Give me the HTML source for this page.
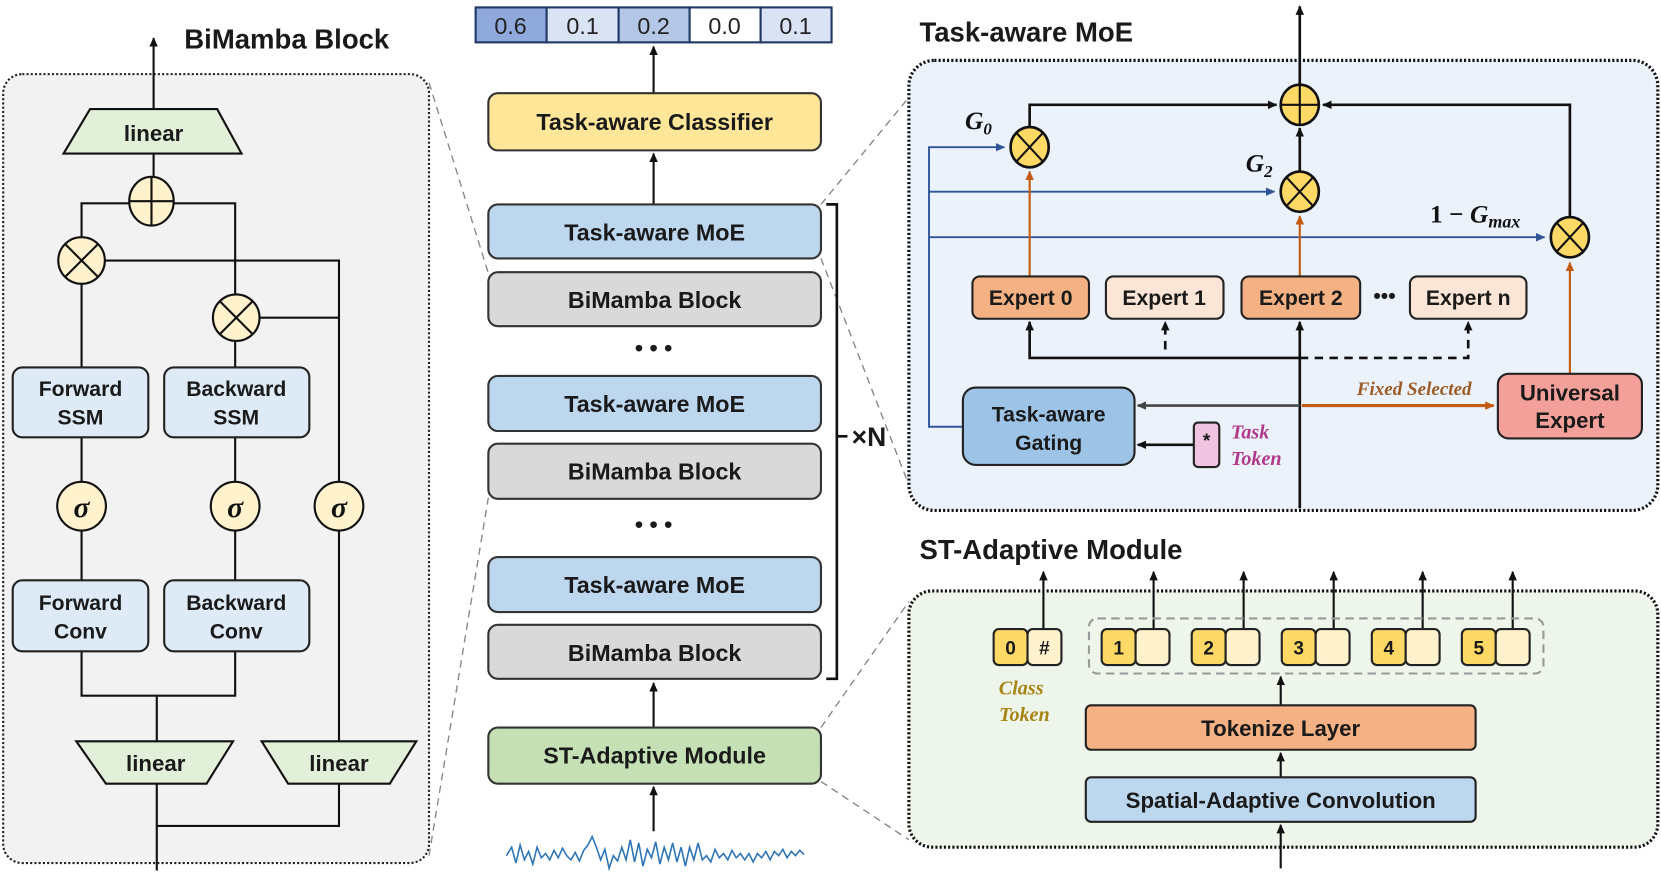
<!DOCTYPE html>
<html><head><meta charset="utf-8"><style>
html,body{margin:0;padding:0;background:#fff;}
svg{display:block;}
text{font-family:"Liberation Sans",sans-serif;}
.b{font-weight:bold;fill:#1a1a1a;}
</style></head><body>
<svg width="1661" height="880" viewBox="0 0 1568 831" preserveAspectRatio="none" xmlns="http://www.w3.org/2000/svg">
<defs>
<marker id="ak" markerWidth="10" markerHeight="10" refX="8" refY="5" orient="auto" markerUnits="userSpaceOnUse"><path d="M0,1 L9,5 L0,9 z" fill="#111"/></marker>
<marker id="ab" markerWidth="10" markerHeight="10" refX="8" refY="5" orient="auto" markerUnits="userSpaceOnUse"><path d="M0,1 L9,5 L0,9 z" fill="#2f5597"/></marker>
<marker id="ao" markerWidth="10" markerHeight="10" refX="8" refY="5" orient="auto" markerUnits="userSpaceOnUse"><path d="M0,1 L9,5 L0,9 z" fill="#c55a11"/></marker>
<marker id="ag" markerWidth="10" markerHeight="10" refX="8" refY="5" orient="auto" markerUnits="userSpaceOnUse"><path d="M0,1 L9,5 L0,9 z" fill="#444"/></marker>
</defs>

<!-- LEFT PANEL -->
<rect x="3" y="70" width="402" height="745" rx="18" fill="#f2f2f2" stroke="#222" stroke-width="2" stroke-dasharray="2,2"/>
<text x="174" y="46" class="b" font-size="26">BiMamba Block</text>
<g stroke="#111" stroke-width="2" fill="none">
<line x1="145" y1="103" x2="145" y2="36" marker-end="url(#ak)"/>
<line x1="145" y1="145" x2="145" y2="168"/>
<polyline points="77,224 77,192 222,192 222,278"/>
<polyline points="99,246 320,246 320,455"/>
<line x1="245" y1="300" x2="320" y2="300"/>
<line x1="77" y1="268" x2="77" y2="347"/>
<line x1="222" y1="322" x2="222" y2="347"/>
<line x1="77" y1="413" x2="77" y2="455"/>
<line x1="222" y1="413" x2="222" y2="455"/>
<line x1="77" y1="501" x2="77" y2="548"/>
<line x1="222" y1="501" x2="222" y2="548"/>
<polyline points="77,615 77,657 222,657 222,615"/>
<line x1="148" y1="657" x2="148" y2="700"/>
<line x1="148" y1="740" x2="148" y2="822"/>
<polyline points="320,501 320,700"/>
<polyline points="320,740 320,780 148,780"/>
</g>
<polygon points="85,103 205,103 228,145 60,145" fill="#e2efd9" stroke="#111" stroke-width="2"/>
<text x="145" y="133" class="b" font-size="21" text-anchor="middle">linear</text>
<polygon points="72,700 220,700 195,740 100,740" fill="#e2efd9" stroke="#111" stroke-width="2"/>
<text x="147" y="728" class="b" font-size="21" text-anchor="middle">linear</text>
<polygon points="247,700 393,700 368,740 272,740" fill="#e2efd9" stroke="#111" stroke-width="2"/>
<text x="320" y="728" class="b" font-size="21" text-anchor="middle">linear</text>
<g stroke="#111" stroke-width="2">
<ellipse cx="143" cy="190" rx="21" ry="23" fill="#fff2cc"/>
<line x1="122" y1="190" x2="164" y2="190"/><line x1="143" y1="167" x2="143" y2="213"/>
<ellipse cx="77" cy="246" rx="22" ry="22" fill="#fff2cc"/>
<line x1="62" y1="231" x2="92" y2="261"/><line x1="92" y1="231" x2="62" y2="261"/>
<ellipse cx="223" cy="300" rx="22" ry="22" fill="#fff2cc"/>
<line x1="208" y1="285" x2="238" y2="315"/><line x1="238" y1="285" x2="208" y2="315"/>
<ellipse cx="77" cy="478" rx="23" ry="23" fill="#fff2cc"/>
<ellipse cx="222" cy="478" rx="23" ry="23" fill="#fff2cc"/>
<ellipse cx="320" cy="478" rx="23" ry="23" fill="#fff2cc"/>
</g>
<g font-family="Liberation Serif,serif" font-weight="bold" font-style="italic" font-size="28" text-anchor="middle" fill="#111">
<text x="77" y="488" style="font-family:'Liberation Serif',serif">σ</text>
<text x="222" y="488" style="font-family:'Liberation Serif',serif">σ</text>
<text x="320" y="488" style="font-family:'Liberation Serif',serif">σ</text>
</g>
<g stroke="#222" stroke-width="2" fill="#deebf7">
<rect x="12" y="347" width="128" height="66" rx="9"/>
<rect x="155" y="347" width="137" height="66" rx="9"/>
<rect x="12" y="548" width="128" height="67" rx="9"/>
<rect x="155" y="548" width="137" height="67" rx="9"/>
</g>
<g class="b" font-size="20" text-anchor="middle">
<text x="76" y="374" class="b">Forward</text><text x="76" y="401" class="b">SSM</text>
<text x="223" y="374" class="b">Backward</text><text x="223" y="401" class="b">SSM</text>
<text x="76" y="576" class="b">Forward</text><text x="76" y="603" class="b">Conv</text>
<text x="223" y="576" class="b">Backward</text><text x="223" y="603" class="b">Conv</text>
</g>

<!-- dashed connectors -->
<g stroke="#888" stroke-width="1.3" stroke-dasharray="7,5" fill="none">
<line x1="405" y1="78" x2="461" y2="258"/>
<line x1="405" y1="808" x2="461" y2="470"/>
<line x1="775" y1="193" x2="858" y2="92"/>
<line x1="775" y1="244" x2="858" y2="458"/>
<line x1="775" y1="687" x2="858" y2="568"/>
<line x1="775" y1="738" x2="858" y2="793"/>
</g>

<!-- MIDDLE -->
<g stroke="#1f3864" stroke-width="2">
<rect x="449" y="7" width="67" height="33" fill="#8fa9dc"/>
<rect x="516" y="7" width="68" height="33" fill="#dae3f3"/>
<rect x="584" y="7" width="67" height="33" fill="#b4c7e7"/>
<rect x="651" y="7" width="67" height="33" fill="#ffffff"/>
<rect x="718" y="7" width="67" height="33" fill="#dae3f3"/>
</g>
<g font-size="22" text-anchor="middle" fill="#222">
<text x="482" y="32">0.6</text><text x="550" y="32">0.1</text><text x="617" y="32">0.2</text><text x="684" y="32">0.0</text><text x="751" y="32">0.1</text>
</g>
<g stroke="#111" stroke-width="2" fill="none">
<line x1="617" y1="88" x2="617" y2="44" marker-end="url(#ak)"/>
<line x1="617" y1="193" x2="617" y2="145" marker-end="url(#ak)"/>
<line x1="617" y1="687" x2="617" y2="645" marker-end="url(#ak)"/>
<line x1="617" y1="785" x2="617" y2="743" marker-end="url(#ak)"/>
<polyline points="780,193 790,193 790,641 780,641" stroke-width="2.5"/>
<line x1="790" y1="412" x2="800" y2="412" stroke-width="2.5"/>
</g>
<text x="804" y="421" class="b" font-size="25">×N</text>
<g stroke="#333" stroke-width="2">
<rect x="461" y="88" width="314" height="54" rx="9" fill="#ffe699"/>
<rect x="461" y="193" width="314" height="51" rx="9" fill="#bdd7ee"/>
<rect x="461" y="257" width="314" height="51" rx="9" fill="#d9d9d9"/>
<rect x="461" y="355" width="314" height="52" rx="9" fill="#bdd7ee"/>
<rect x="461" y="419" width="314" height="52" rx="9" fill="#d9d9d9"/>
<rect x="461" y="526" width="314" height="52" rx="9" fill="#bdd7ee"/>
<rect x="461" y="590" width="314" height="51" rx="9" fill="#d9d9d9"/>
<rect x="461" y="687" width="314" height="53" rx="9" fill="#c5e0b4"/>
</g>
<g font-size="22" text-anchor="middle">
<text x="618" y="123" class="b">Task-aware Classifier</text>
<text x="618" y="227" class="b">Task-aware MoE</text>
<text x="618" y="291" class="b">BiMamba Block</text>
<text x="618" y="389" class="b">Task-aware MoE</text>
<text x="618" y="453" class="b">BiMamba Block</text>
<text x="618" y="560" class="b">Task-aware MoE</text>
<text x="618" y="624" class="b">BiMamba Block</text>
<text x="618" y="721" class="b">ST-Adaptive Module</text>
<text x="617" y="336" class="b">• • •</text>
<text x="617" y="503" class="b">• • •</text>
</g>
<polyline fill="none" stroke="#2e75b6" stroke-width="1.5" points="478,808 483,800 487,815 491,798 495,812 499,804 503,816 507,800 511,810 515,806 519,812 523,803 527,810 531,801 535,808 539,812 543,805 547,813 551,803 555,798 559,790 563,800 567,812 571,802 575,820 579,808 583,813 587,800 591,812 595,793 599,814 603,796 607,818 611,802 615,810 619,795 623,816 627,800 631,812 635,796 639,814 643,800 647,818 651,800 655,812 659,796 663,812 667,808 671,814 675,802 679,810 683,806 687,812 691,803 695,810 699,806 703,812 707,806 711,814 715,806 719,810 723,804 727,812 731,804 735,808 739,802 743,810 747,804 751,808 755,803 759,807"/>

<!-- TASK-AWARE MoE PANEL -->
<text x="868" y="39" class="b" font-size="26">Task-aware MoE</text>
<rect x="858" y="57" width="707" height="425" rx="24" fill="#ebf2fa" stroke="#111" stroke-width="3" stroke-dasharray="2,2"/>
<g stroke="#2f5597" stroke-width="1.8" fill="none">
<polyline points="909,403 877,403 877,139 948,139" marker-end="url(#ab)"/>
<line x1="877" y1="181" x2="1203" y2="181" marker-end="url(#ab)"/>
<line x1="877" y1="224" x2="1458" y2="224" marker-end="url(#ab)"/>
</g>
<g stroke="#c55a11" stroke-width="2" fill="none">
<line x1="972" y1="261" x2="972" y2="162" marker-end="url(#ao)"/>
<line x1="1227" y1="261" x2="1227" y2="204" marker-end="url(#ao)"/>
<line x1="1482" y1="353" x2="1482" y2="248" marker-end="url(#ao)"/>
<line x1="1229" y1="383" x2="1410" y2="383" stroke-width="3" marker-end="url(#ao)"/>
</g>
<g stroke="#111" stroke-width="2.5" fill="none">
<line x1="1227" y1="480" x2="1227" y2="304" marker-end="url(#ak)"/>
<line x1="1227" y1="80" x2="1227" y2="6" marker-end="url(#ak)"/>
<polyline points="972,120 972,99 1205,99" marker-end="url(#ak)"/>
<polyline points="1482,204 1482,99 1249,99" marker-end="url(#ak)"/>
<line x1="1227" y1="162" x2="1227" y2="121" marker-end="url(#ak)"/>
<polyline points="1227,338 972,338 972,304" marker-end="url(#ak)"/>
<polyline points="1227,338 1386,338 1386,304" stroke-dasharray="8,6" marker-end="url(#ak)"/>
<line x1="1100" y1="330" x2="1100" y2="304" stroke-dasharray="8,6" marker-end="url(#ak)"/>
<line x1="1127" y1="420" x2="1074" y2="420" marker-end="url(#ak)"/>
</g>
<line x1="1227" y1="383" x2="1074" y2="383" stroke="#444" stroke-width="2.5" marker-end="url(#ag)"/>
<g stroke="#111" stroke-width="2.5" fill="#ffd966">
<ellipse cx="1227" cy="99" rx="18" ry="19"/>
<ellipse cx="972" cy="139" rx="18" ry="19"/>
<ellipse cx="1227" cy="181" rx="18" ry="19"/>
<ellipse cx="1482" cy="224" rx="18" ry="19"/>
</g>
<g stroke="#111" stroke-width="2">
<line x1="1209" y1="99" x2="1245" y2="99"/><line x1="1227" y1="80" x2="1227" y2="118"/>
<line x1="960" y1="126" x2="984" y2="152"/><line x1="984" y1="126" x2="960" y2="152"/>
<line x1="1215" y1="168" x2="1239" y2="194"/><line x1="1239" y1="168" x2="1215" y2="194"/>
<line x1="1470" y1="211" x2="1494" y2="237"/><line x1="1494" y1="211" x2="1470" y2="237"/>
</g>
<g font-family="Liberation Serif,serif" font-weight="bold" font-style="italic" fill="#111">
<text x="911" y="122" font-size="24" style="font-family:'Liberation Serif',serif">G<tspan font-size="16" dy="5">0</tspan></text>
<text x="1176" y="162" font-size="24" style="font-family:'Liberation Serif',serif">G<tspan font-size="16" dy="5">2</tspan></text>
<text x="1350" y="210" font-size="24" style="font-family:'Liberation Serif',serif"><tspan font-style="normal">1 − </tspan>G<tspan font-size="17" dy="5">max</tspan></text>
</g>
<g stroke="#222" stroke-width="2">
<rect x="918" y="261" width="110" height="40" rx="7" fill="#f4b183"/>
<rect x="1044" y="261" width="111" height="40" rx="7" fill="#fbe5d6"/>
<rect x="1172" y="261" width="112" height="40" rx="7" fill="#f4b183"/>
<rect x="1331" y="261" width="110" height="40" rx="7" fill="#fbe5d6"/>
<rect x="909" y="366" width="162" height="73" rx="12" fill="#9dc3e6"/>
<rect x="1414" y="353" width="136" height="61" rx="10" fill="#f4a09a"/>
<rect x="1127" y="399" width="24" height="42" rx="4" fill="#f0c4e0"/>
</g>
<g font-size="20" text-anchor="middle">
<text x="973" y="288" class="b">Expert 0</text>
<text x="1099" y="288" class="b">Expert 1</text>
<text x="1228" y="288" class="b">Expert 2</text>
<text x="1386" y="288" class="b">Expert n</text>
<text x="1307" y="286" class="b">•••</text>
<text x="990" y="398" class="b">Task-aware</text>
<text x="990" y="425" class="b">Gating</text>
<text x="1482" y="378" class="b" font-size="21">Universal</text>
<text x="1482" y="404" class="b" font-size="21">Expert</text>
<text x="1139" y="422" class="b" font-size="18">*</text>
</g>
<g font-style="italic" font-weight="bold" style="font-family:'Liberation Serif',serif">
<text x="1335" y="373" font-size="18" fill="#9c5a25" text-anchor="middle" style="font-family:'Liberation Serif',serif">Fixed Selected</text>
<text x="1162" y="414" font-size="19" fill="#b0398b" style="font-family:'Liberation Serif',serif">Task</text>
<text x="1162" y="439" font-size="19" fill="#b0398b" style="font-family:'Liberation Serif',serif">Token</text>
</g>

<!-- ST-ADAPTIVE PANEL -->
<text x="868" y="528" class="b" font-size="26">ST-Adaptive Module</text>
<rect x="858" y="558" width="707" height="242" rx="22" fill="#eef5ea" stroke="#111" stroke-width="3" stroke-dasharray="2,2"/>
<g stroke="#111" stroke-width="2" fill="none">
<line x1="985" y1="594" x2="985" y2="540" marker-end="url(#ak)"/>
<line x1="1089" y1="594" x2="1089" y2="540" marker-end="url(#ak)"/>
<line x1="1174" y1="594" x2="1174" y2="540" marker-end="url(#ak)"/>
<line x1="1259" y1="594" x2="1259" y2="540" marker-end="url(#ak)"/>
<line x1="1343" y1="594" x2="1343" y2="540" marker-end="url(#ak)"/>
<line x1="1428" y1="594" x2="1428" y2="540" marker-end="url(#ak)"/>
<line x1="1209" y1="820" x2="1209" y2="779" marker-end="url(#ak)"/>
<line x1="1209" y1="734" x2="1209" y2="711" marker-end="url(#ak)"/>
<line x1="1209" y1="666" x2="1209" y2="639" marker-end="url(#ak)"/>
</g>
<rect x="1028" y="584" width="429" height="52" rx="8" fill="none" stroke="#999" stroke-width="2" stroke-dasharray="8,5"/>
<g stroke="#222" stroke-width="2">
<rect x="938" y="594" width="32" height="34" rx="5" fill="#ffd966"/><rect x="970" y="594" width="32" height="34" rx="5" fill="#fff2cc"/>
<rect x="1040" y="594" width="32" height="34" rx="5" fill="#ffd966"/><rect x="1072" y="594" width="32" height="34" rx="5" fill="#fff2cc"/>
<rect x="1125" y="594" width="32" height="34" rx="5" fill="#ffd966"/><rect x="1157" y="594" width="32" height="34" rx="5" fill="#fff2cc"/>
<rect x="1210" y="594" width="32" height="34" rx="5" fill="#ffd966"/><rect x="1242" y="594" width="32" height="34" rx="5" fill="#fff2cc"/>
<rect x="1295" y="594" width="32" height="34" rx="5" fill="#ffd966"/><rect x="1327" y="594" width="32" height="34" rx="5" fill="#fff2cc"/>
<rect x="1380" y="594" width="32" height="34" rx="5" fill="#ffd966"/><rect x="1412" y="594" width="32" height="34" rx="5" fill="#fff2cc"/>
<rect x="1025" y="666" width="368" height="42" rx="5" fill="#f4b183"/>
<rect x="1025" y="734" width="368" height="42" rx="5" fill="#bdd7ee"/>
</g>
<g font-size="18" text-anchor="middle">
<text x="954" y="618" class="b">0</text><text x="986" y="618" class="b">#</text>
<text x="1056" y="618" class="b">1</text><text x="1141" y="618" class="b">2</text><text x="1226" y="618" class="b">3</text><text x="1311" y="618" class="b">4</text><text x="1396" y="618" class="b">5</text>
<text x="1209" y="695" class="b" font-size="21">Tokenize Layer</text>
<text x="1209" y="763" class="b" font-size="21">Spatial-Adaptive Convolution</text>
</g>
<g font-style="italic" font-weight="bold" font-size="19" fill="#a88414" text-anchor="middle">
<text x="964" y="656" style="font-family:'Liberation Serif',serif">Class</text>
<text x="967" y="681" style="font-family:'Liberation Serif',serif">Token</text>
</g>
</svg>
</body></html>
